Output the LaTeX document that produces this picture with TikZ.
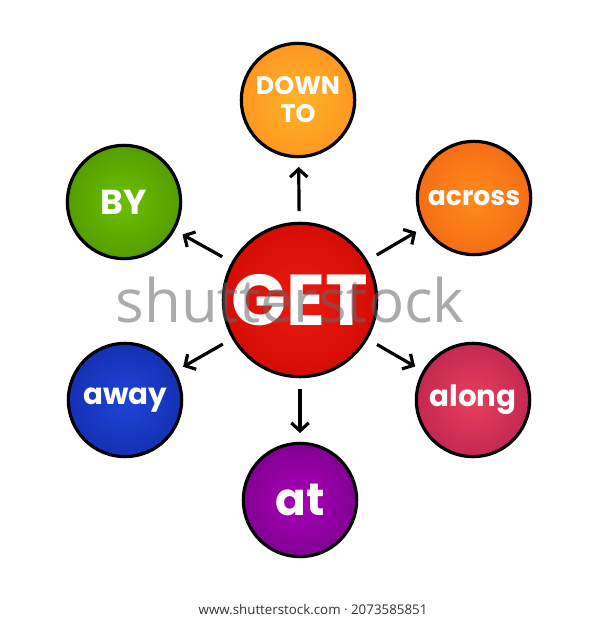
\documentclass[tikz,border=0pt]{standalone}
\usepackage{fontspec}
\usetikzlibrary{arrows.meta}
\newfontfamily\bubfont{Poppins}
\newfontfamily\wmfont{Open Sans}
\makeatletter
\pgfdeclareradialshading[tikz@radial@inner,tikz@radial@outer]{softball}{\pgfpointorigin}{color(0bp)=(tikz@radial@inner); color(50bp)=(tikz@radial@outer)}
\makeatother
\definecolor{getI}{HTML}{EC1A0E}
\definecolor{getO}{HTML}{BE0000}
\definecolor{downI}{HTML}{FFB428}
\definecolor{downO}{HTML}{FF7A1C}
\definecolor{acrI}{HTML}{FF8C1A}
\definecolor{acrO}{HTML}{EC4E10}
\definecolor{byI}{HTML}{6CC000}
\definecolor{byO}{HTML}{3E7A00}
\definecolor{awayI}{HTML}{1E44DA}
\definecolor{awayO}{HTML}{0C1E8C}
\definecolor{alongI}{HTML}{E8405A}
\definecolor{alongO}{HTML}{A0104A}
\definecolor{atI}{HTML}{A800B8}
\definecolor{atO}{HTML}{5E0070}
\begin{document}
\begin{tikzpicture}[x=0.75pt,y=-0.75pt,
  bub/.style={circle,draw=black,line width=2.4pt,inner sep=0pt,minimum size=#1,text=white,align=center},
  ball/.style 2 args={inner color=#1,outer color=#2,shading=softball},
  lbl/.style={font=\bubfont\bfseries\fontsize{#1}{#1}\selectfont},
  arr/.style={line width=2.4pt,-{Straight Barb[length=6pt,width=13pt]},shorten <=8pt,shorten >=6.5pt}]
\useasboundingbox[fill=white] (0,0) rectangle (600,620);
\node[bub=115pt,ball={getI}{getO},lbl=54] (get) at (300,300) {GET};
\node[bub=85pt,ball={downI}{downO},font=\bubfont\bfseries\fontsize{19}{21}\selectfont] (down) at (298,100) {DOWN\\TO};
\node[bub=85pt,ball={acrI}{acrO},lbl=20] (across) at (474,198) {across};
\node[bub=85pt,ball={byI}{byO},lbl=26] (by) at (124,202) {BY};
\node[bub=85pt,ball={awayI}{awayO},lbl=22] (away) at (125,400) {away};
\node[bub=85pt,ball={alongI}{alongO},lbl=22] (along) at (473,400) {along};
\node[bub=85pt,ball={atI}{atO},lbl=34] (at) at (300,500) {at};
\draw[arr] (get) -- (down);
\draw[arr] (get) -- (across);
\draw[arr] (get) -- (by);
\draw[arr] (get) -- (away);
\draw[arr] (get) -- (along);
\draw[arr] (get) -- (at);
\node[font=\wmfont\fontsize{45}{45}\selectfont,text=black!60,text opacity=0.55] (wm) at (290,300) {shutterstock};
\node[font=\wmfont\fontsize{10}{12}\selectfont,text=black!80] (credit) at (313,610) {www.shutterstock.com · 2073585851};
\end{tikzpicture}
\end{document}
